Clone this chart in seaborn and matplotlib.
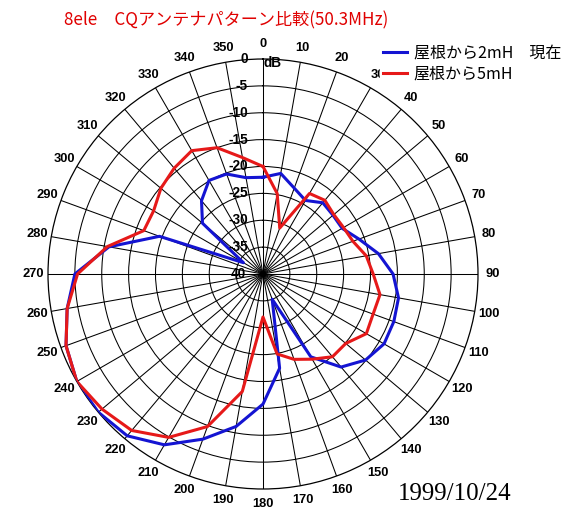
import numpy as np
import pandas as pd
import matplotlib
matplotlib.use("Agg")
import matplotlib.pyplot as plt
import seaborn as sns

# ---- data ----
angles_deg = [0, 10, 20, 30, 40, 50, 60, 70, 80, 90, 100, 110, 120, 130, 140, 150, 160, 170,
              180, 190, 200, 210, 220, 230, 240, 250, 260, 270, 280, 290, 300, 310, 320, 330, 340, 350]
blue_db = [-22, -21, -23, -24.2, -22.7, -23, -23, -21, -18.2, -15.8, -14.4, -14.1, -14.0, -15.1,
           -17.4, -22.2, -35, -22.2, -15.8, -11.2, -7.3, -3.3, -0.7, 0, 0, -1.0, -3.0, -5.0,
           -10.9, -19.5, -35.8, -25.3, -22.2, -19.9, -20.2, -21.8]
red_db = [-20, -24.8, -30.9, -22.7, -22.1, -22.8, -22.7, -22.2, -20.5, -19.5, -17.9, -18.2, -17.8,
          -19.9, -19.9, -21.7, -23.1, -24.9, -32, -17.8, -9.8, -4.9, -2.0, -0.9, 0, -1.0, -3.0,
          -5.5, -10.6, -16.4, -16.5, -15.2, -14.3, -13.5, -15, -18]
series_names = ["屋根から2mH　現在", "屋根から5mH"]
series_colors = ["#1414d2", "#e61919"]
ring_values = [0, -5, -10, -15, -20, -25, -30, -35]
ring_labels = ["0", "-5", "-10", "-15", "-20", "-25", "-30", "-35"]
center_label = "40"
angle_labels = [str(a) for a in angles_deg]
title_text = "8ele　CQアンテナパターン比較(50.3MHz)"
date_text = "1999/10/24"

W, H = 565, 522
fig = plt.figure(figsize=(W / 100, H / 100), dpi=100)
fig.patch.set_facecolor("white")
ax = fig.add_axes([48 / W, 33 / H, 430 / W, 430 / H], projection="polar")
ax.set_theta_zero_location("N")
ax.set_theta_direction(-1)
ax.set_facecolor("white")

def closed(vals):
    return list(vals) + [vals[0]]

theta = np.deg2rad(closed(angles_deg))
for vals, name, col in zip([blue_db, red_db], series_names, series_colors):
    df = pd.DataFrame({"theta": theta, "db": closed(vals)})
    sns.lineplot(data=df, x="theta", y="db", ax=ax, sort=False, color=col,
                 linewidth=2.2, label=name, estimator=None, zorder=3)

ax.set_ylim(-40, 0)
ax.set_xticks(np.deg2rad(angles_deg))
ax.set_xticklabels(angle_labels, fontfamily="Liberation Sans", fontweight="bold", fontsize=9.3)
ax.tick_params(axis="x", length=0, pad=3.5)
ax.set_yticks(ring_values[1:])
ax.set_yticklabels([])
ax.tick_params(axis="y", length=0)
ax.grid(True, color="black", linewidth=0.75)
ax.spines["polar"].set_color("black")
ax.spines["polar"].set_linewidth(0.9)
ax.set_xlabel("")
ax.set_ylabel("")

lab_font = dict(fontfamily="Liberation Sans", fontweight="bold", fontsize=9.8, color="black")
for v, t in zip(ring_values, ring_labels):
    ax.annotate(t, xy=(0, v), xytext=(-15, 0), textcoords="offset pixels",
                ha="right", va="center", zorder=4, **lab_font)
ax.annotate(center_label, xy=(0, -40), xytext=(-17, 0), textcoords="offset pixels",
            ha="right", va="center", zorder=4, **lab_font)
ax.annotate("dB", xy=(0, 0), xytext=(1, -4), textcoords="offset pixels",
            ha="left", va="center", zorder=4, **lab_font)

ax.legend(loc="upper left", bbox_to_anchor=(380 / W, 1 - 41 / H), bbox_transform=fig.transFigure,
          prop={"family": ["Noto Sans CJK JP", "DejaVu Sans"], "size": 11.5},
          frameon=True, facecolor="white", edgecolor="white", framealpha=1,
          handlelength=1.5, handletextpad=0.4, labelspacing=0.3, borderpad=0.2,
          borderaxespad=0)

fig.text(226 / W, 1 - 20 / H, title_text, color="#e00000", fontsize=12.3,
         family=["Noto Sans CJK JP", "DejaVu Sans"], ha="center", va="center")
fig.text(455 / W, 1 - 494 / H, date_text, color="black", fontsize=18,
         family="Liberation Serif", ha="center", va="center")

fig.savefig("out.png", dpi=100, facecolor="white")
